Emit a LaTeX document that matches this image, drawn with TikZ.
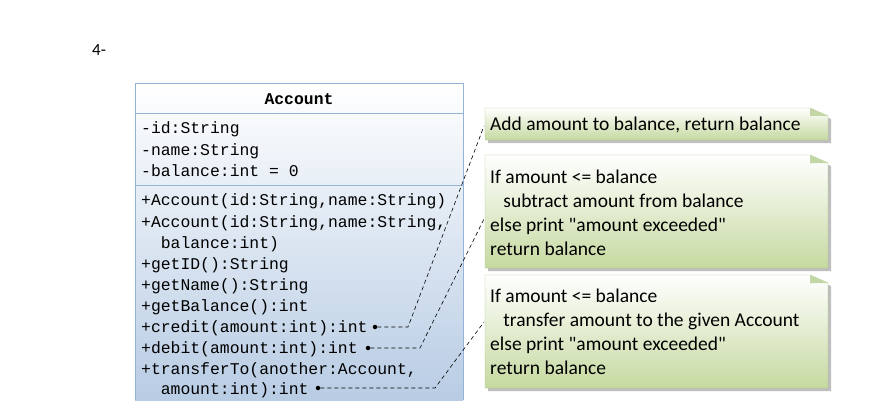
\documentclass[tikz,border=0pt]{standalone}
\usepackage{fontspec}
\setmainfont{Carlito}
\newfontfamily\monof{Liberation Mono}
\begin{document}
\begin{tikzpicture}[x=1pt,y=-1pt,
  mono/.style={font=\monof\fontsize{16.4}{22}\selectfont,anchor=base west,inner sep=0},
  notetxt/.style={font=\fontsize{19.5}{24}\selectfont,anchor=base west,inner sep=0},
  conn/.style={dash pattern=on 4pt off 3pt,semithick,black},
  dotn/.style={circle,fill=black,inner sep=0,minimum size=4.5pt}]
\definecolor{cb}{HTML}{95B3D7}
\definecolor{cbf}{HTML}{B8CCE4}
\definecolor{gb}{HTML}{A9C47F}
\definecolor{gf}{HTML}{C6D9A0}
\useasboundingbox (0,0) rectangle (879,420);
\node[font=\fontsize{17}{20}\selectfont,anchor=base west,inner sep=0] (num) at (92,56) {4-};
% class box
\shade[top color=white,bottom color=cbf] (135,83) rectangle (463,400);
\draw[cb,thick] (135,400) -- (135,83) -- (463,83) -- (463,400);
\draw[cb,thick] (135,113) -- (463,113);
\draw[cb,thick] (135,185) -- (463,185);
\node[mono,anchor=base,font=\monof\bfseries\fontsize{16.4}{22}\selectfont] (title) at (299,104) {Account};
\node[mono] (a1) at (141,133) {-id:String};
\node[mono] (a2) at (141,155) {-name:String};
\node[mono] (a3) at (141,176) {-balance:int = 0};
\node[mono] (m1) at (141,205) {+Account(id:String,name:String)};
\node[mono] (m2) at (141,227) {+Account(id:String,name:String,};
\node[mono] (m3) at (141,248) {\ \ balance:int)};
\node[mono] (m4) at (141,269) {+getID():String};
\node[mono] (m5) at (141,290) {+getName():String};
\node[mono] (m6) at (141,311) {+getBalance():int};
\node[mono] (m7) at (141,332) {+credit(amount:int):int};
\node[mono] (m8) at (141,353) {+debit(amount:int):int};
\node[mono] (m9) at (141,374) {+transferTo(another:Account,};
\node[mono] (m10) at (141,394) {\ \ amount:int):int};
% notes
\foreach \n/\ya/\yb in {n1/108/140,n2/155/268,n3/275/388}{
  \fill[black!25] (488,\ya+3) -- (813,\ya+3) -- (831,\ya+11) -- (831,\yb+3) -- (488,\yb+3) -- cycle;
  \shade[top color=white,bottom color=gf,draw=gb] (485,\ya) -- (810,\ya) -- (828,\ya+8) -- (828,\yb) -- (485,\yb) -- cycle;
  \fill[gb!70] (810,\ya) -- (828,\ya+8) -- (810,\ya+8) -- cycle;
  \coordinate (\n) at (485,\ya+14);
}
\node[notetxt] (t1) at (490,131) {Add amount to balance, return balance};
\node[notetxt] (t2a) at (490,183) {If amount <= balance};
\node[notetxt] (t2b) at (490,207) {\ \ \ subtract amount from balance};
\node[notetxt] (t2c) at (490,231) {else print \textquotedbl amount exceeded\textquotedbl};
\node[notetxt] (t2d) at (490,255) {return balance};
\node[notetxt] (t3a) at (490,302) {If amount <= balance};
\node[notetxt] (t3b) at (490,326) {\ \ \ transfer amount to the given Account};
\node[notetxt] (t3c) at (490,350) {else print \textquotedbl amount exceeded\textquotedbl};
\node[notetxt] (t3d) at (490,374) {return balance};
% connectors
\node[dotn] (d1) at (375,327) {};
\node[dotn] (d2) at (368,348) {};
\node[dotn] (d3) at (318,388) {};
\coordinate (c1) at (408,327);
\coordinate (c2) at (420,348);
\coordinate (c3) at (435,388);
\coordinate (e1) at (484,126);
\coordinate (e2) at (484,219);
\coordinate (e3) at (484,322);
\draw[conn] (d1) -- (c1) -- (e1);
\draw[conn] (d2) -- (c2) -- (e2);
\draw[conn] (d3) -- (c3) -- (e3);
\end{tikzpicture}
\end{document}
